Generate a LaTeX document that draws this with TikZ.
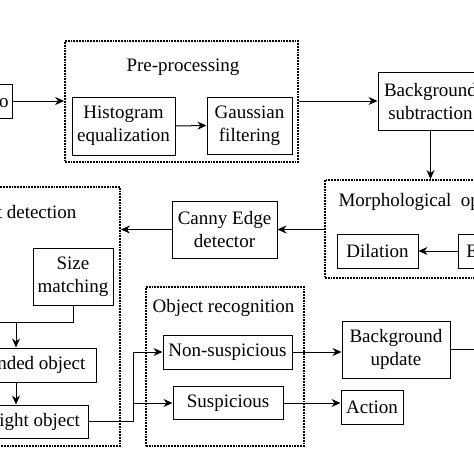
\documentclass[tikz,border=0pt]{standalone}
\usepackage{fontspec}
\setmainfont{Liberation Serif}
\usepackage{tikz}
\usetikzlibrary{arrows.meta,positioning}
\begin{document}
\begin{tikzpicture}[x=1pt,y=-1pt,font=\fontsize{19}{23}\selectfont,
        box/.style={draw,line width=1pt,align=center,inner sep=0pt},
        group/.style={draw,densely dotted,line width=1.8pt,inner sep=0pt},
        arr/.style={-{Stealth[length=9pt,width=8pt]},line width=1pt},
        line/.style={line width=1pt}]
        \useasboundingbox (0,0) rectangle (474,474);
        \clip (0,0) rectangle (474,474);
        % dotted groups
        \node[group,minimum width=233pt,minimum height=121pt] (pre) at (181.5,101.5) {};
        \node[group,minimum width=235pt,minimum height=98pt] (morph) at (442.5,229) {};
        \node[group,minimum width=200pt,minimum height=259pt] (objdet) at (20,316.5) {};
        \node[group,minimum width=158pt,minimum height=159pt] (objrec) at (225,366.5) {};
        \node at (183,67) {Pre-processing};
        \node[anchor=west] at (335,202) {Morphological\ \ operations};
        \node[anchor=east] at (80,214) {Object detection};
        \node at (223.5,308) {Object recognition};
        % boxes
        \node[box,inner xsep=4pt,minimum height=34pt,anchor=east] (vid) at (13,101) {Video};
        \node[box,minimum width=103pt,minimum height=58pt] (hist) at (123.5,126) {Histogram\\equalization};
        \node[box,minimum width=85pt,minimum height=57pt] (gauss) at (249.5,125.5) {Gaussian\\filtering};
        \node[box,minimum width=105pt,minimum height=58pt] (bgsub) at (430.5,101) {Background\\subtraction};
        \node[box,minimum width=81pt,minimum height=34pt] (dil) at (377.5,251) {Dilation};
        \node[box,minimum width=75pt,minimum height=34pt,anchor=west] (ero) at (458,251) {Erosion};
        \node[box,minimum width=105pt,minimum height=57pt] (canny) at (224.5,229.5) {Canny Edge\\detector};
        \node[box,minimum width=80pt,minimum height=57pt] (size) at (73,276.5) {Size\\matching};
        \node[box,minimum width=160pt,minimum height=34pt] (unatt) at (16,365) {Unattended object};
        \node[box,minimum width=140pt,minimum height=33pt] (hl) at (18,421.5) {Highlight object};
        \node[box,minimum width=129pt,minimum height=34pt] (nons) at (227.5,352) {Non-suspicious};
        \node[box,minimum width=110pt,minimum height=33pt] (sus) at (228,403) {Suspicious};
        \node[box,minimum width=108pt,minimum height=57pt] (bgup) at (396,349.5) {Background\\update};
        \node[box,minimum width=62pt,minimum height=34pt] (act) at (372,407) {Action};
        \coordinate (jn) at (73,322); \coordinate (jl) at (-20,322);
        \coordinate (sp) at (hl.east -| 133,0);
        \coordinate (out) at (490,349.5);
        % connectors
        \draw[arr] (vid.east)--(vid.east -| pre.west);
        \draw[arr] (hist.east)--(gauss.west);
        \draw[arr] (pre.east |- bgsub.west)--(bgsub.west);
        \draw[arr] (bgsub.south)--(bgsub.south |- morph.north);
        \draw[arr] (ero.west)--(dil.east);
        \draw[arr] (morph.west |- canny.east)--(canny.east);
        \draw[arr] (canny.west)--(canny.west -| objdet.east);
        \draw[line] (size.south)--(jn)--(jl);
        \draw[arr] (unatt.north |- jn)--(unatt.north);
        \draw[arr] (unatt.south)--(unatt.south |- hl.north);
        \draw[line] (hl.east)--(sp);
        \draw[arr] (sp)|-(nons.west);
        \draw[arr] (sp |- sus.west)--(sus.west);
        \draw[arr] (nons.east)--(nons.east -| bgup.west);
        \draw[arr] (sus.east)--(sus.east -| act.west);
        \draw[line] (bgup.east)--(out);
\end{tikzpicture}
\end{document}
